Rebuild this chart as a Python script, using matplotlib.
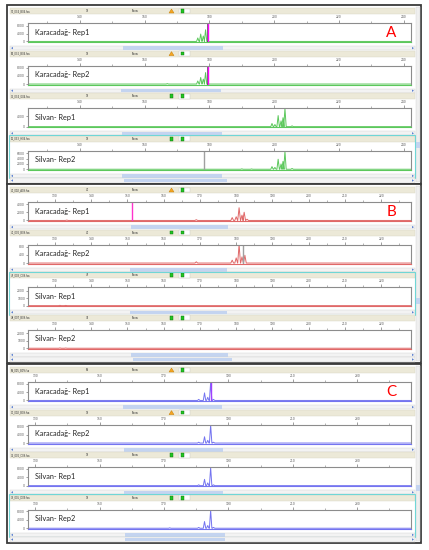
import matplotlib.pyplot as plt
from matplotlib.patches import Rectangle, Polygon

W, H = 429, 550

# size axis labels of the three panels
a_ticks = [140, 160, 180, 200, 220, 240]
b_ticks = [130, 140, 150, 160, 170, 180, 190, 200, 210, 220]
c_ticks = [130, 150, 170, 190, 210, 230]
a_xlim = (124, 242.2)
b_xlim = (122.6, 228.2)
c_xlim = (127.8, 246.7)

names = ['Karacadağ- Rep1', 'Karacadağ- Rep2', 'Silvan- Rep1', 'Silvan- Rep2']

# panel A (green dye)
a_files = ['97_034_B04.fsa', '98_032_B04.fsa', '76_034_G04.fsa', '96_033_H04.fsa']
a_num = ['79', '79', '79', '79']
a_ymax = [9500, 9000, 7000, 7000]
a_yticks = [[0, 4000, 8000], [0, 4000, 8000], [0, 4000], [0, 2000, 4000, 6000]]
a_pos = [[176.4, 177.3, 178.1, 178.8],
         [167.0, 176.4, 177.3, 178.1, 178.8],
         [199.3, 200.2, 201.2, 202.1, 202.7, 203.3, 205.5],
         [199.3, 200.2, 201.2, 202.1, 202.7, 203.3, 205.5, 190.0, 193.0]]
a_hgt = [[1800, 3800, 2800, 6000],
         [200, 1500, 3200, 2400, 5600],
         [1200, 800, 4200, 2200, 3400, 6900, 300],
         [1000, 700, 3800, 2000, 3000, 6800, 300, 150, 120]]
a_marks = [[(179.1, '#333333'), (179.5, '#FF00FF')],
           [(179.1, '#333333'), (179.5, '#FF00FF')],
           [],
           [(178.3, '#A0A0A0')]]
a_warn = [True, True, False, False]

# panel B (red dye)
b_files = ['40_002_A09.fsa', '41_002_B09.fsa', '47_003_C09.fsa', '48_007_B09.fsa']
b_num = ['40', '40', '47', '37']
b_ymax = [4500, 900, 2500, 2500]
b_yticks = [[0, 2000, 4000], [0, 400, 800], [0, 1000, 2000], [0, 1000, 2000]]
b_pos = [[133.3, 169.0, 178.9, 180.0, 180.8, 181.6, 182.2, 183.0],
         [169.0, 178.9, 180.0, 180.8, 181.6, 182.4],
         [131.4, 133.0],
         [131.4, 133.0]]
b_hgt = [[80, 180, 700, 900, 3100, 1300, 2000, 300],
         [60, 140, 250, 900, 300, 380],
         [40, 30],
         [40, 30]]
b_marks = [[(151.4, '#FF33CC')], [(181.9, '#A0A0A0')], [], []]
b_warn = [True, False, False, False]

# panel C (blue dye)
c_files = ['69_005_B09.fsa', '70_002_B09.fsa', '72_002_C09.fsa', '73_005_D09.fsa']
c_num = ['69', '79', '79', '79']
c_ymax = [8800, 8800, 8800, 8800]
c_yticks = [[0, 4000, 8000]] * 4
c_pos = [[180.8, 182.6, 183.6, 184.5, 185.4],
         [180.8, 182.6, 183.6, 184.5, 185.4],
         [180.8, 182.6, 183.6, 184.5, 185.4],
         [171.8, 180.8, 182.6, 183.6, 184.5, 185.4]]
c_hgt = [[500, 3600, 1500, 8600, 500],
         [400, 3000, 1300, 8600, 400],
         [400, 3000, 1300, 8600, 400],
         [200, 400, 3200, 1300, 8600, 400]]
c_marks = [[(184.5, '#A040FF')], [], [], []]
c_warn = [True, True, False, False]

fig = plt.figure(figsize=(W / 100, H / 100), dpi=100)
bg = fig.add_axes([0, 0, 1, 1])
bg.set_xlim(0, W)
bg.set_ylim(H, 0)
bg.axis('off')

PITCH = 42.6
BEIGE = '#ECE9D8'
THUMB = '#C4D4F0'
CYAN = '#70D6D6'


def scrollbar(y, x0, x1):
    bg.add_patch(Rectangle((10, y), 405, 4.2, fc='#F3F3F3', ec='#D0D0D0', lw=0.3))
    bg.add_patch(Rectangle((x0, y + 0.3), x1 - x0, 3.6, fc=THUMB, ec='none'))
    bg.add_patch(Polygon([(11, y + 2.1), (13, y + 0.9), (13, y + 3.3)], fc='#5A7FD0', ec='none'))
    bg.add_patch(Polygon([(414, y + 2.1), (412, y + 0.9), (412, y + 3.3)], fc='#5A7FD0', ec='none'))


def trace(pos, hgt, lo, hi, w):
    pk = sorted(zip(pos, hgt))
    xs, ys = [lo], [0]
    for p, h in pk:
        xs += [p - w, p, p + w]
        ys += [0, h, 0]
    xs.append(hi)
    ys.append(0)
    return xs, ys


def block(top, ticks, xlim, color, files, nums, ymax, yticks, pos, hgt, marks, warn,
          thumbs, selected, letter, vthumb):
    bg.add_patch(Rectangle((7, top), 414, 179, fc='white', ec='#3A3A3A', lw=1.3))
    # right vertical scrollbar
    bg.add_patch(Rectangle((415.5, top + 2), 4.5, 175, fc='#EFEFEF', ec='#D0D0D0', lw=0.3))
    bg.add_patch(Rectangle((415.8, top + vthumb), 3.9, 6, fc=THUMB, ec='none'))
    step = ticks[1] - ticks[0]
    minors = [t + step / 2 for t in [ticks[0] - step] + ticks]
    minors = [m for m in minors if xlim[0] < m < xlim[1]]
    for i in range(4):
        y0 = top + 3 + PITCH * i
        bg.add_patch(Rectangle((10, y0), 405, 6, fc=BEIGE, ec='#D8D5C4', lw=0.3))
        bg.text(11, y0 + 3, files[i], fontsize=1.8, va='center', color='#333333')
        bg.text(86, y0 + 3, nums[i], fontsize=1.8, va='center', color='#333333')
        bg.text(132, y0 + 3, 'Show', fontsize=1.8, va='center', color='#333333')
        bg.add_patch(Rectangle((179, y0 + 0.6), 11, 4.8, fc='white', ec='#C8C8C8', lw=0.3))
        if warn[i]:
            bg.add_patch(Polygon([(169, y0 + 5), (171.5, y0 + 1), (174, y0 + 5)],
                                 fc='#F5A623', ec='#C07800', lw=0.3))
        else:
            bg.add_patch(Rectangle((169.5, y0 + 1.2), 3.6, 3.6, fc='#22C422', ec='#0A700A', lw=0.3))
        bg.add_patch(Rectangle((180.5, y0 + 1.2), 3.6, 3.6, fc='#22C422', ec='#0A700A', lw=0.3))
        scrollbar(y0 + 38, thumbs[i][0], thumbs[i][1])
        if i == selected:
            bg.add_patch(Rectangle((9.3, y0 - 0.5), 406, 43, fc='none', ec=CYAN, lw=0.8))

        box_top = y0 + 15
        ax = fig.add_axes([28 / W, 1 - (box_top + 19) / H, 383 / W, 19 / H])
        ax.set_facecolor('white')
        xs, ys = trace(pos[i], hgt[i], xlim[0], xlim[1], 0.38)
        ax.plot(xs, ys, color=color, lw=0.7)
        for k, (mp, mc) in enumerate(marks[i]):
            ax.axvline(mp, color=mc, lw=0.5 if mc == '#333333' else 1.0)
        ax.xaxis.set_ticks_position('top')
        ax.set_xticks(ticks)
        ax.set_xticks(minors, minor=True)
        ax.set_xticklabels([str(t) for t in ticks])
        ax.set_yticks(yticks[i])
        ax.set_yticklabels([str(t) for t in yticks[i]])
        ax.set_xlim(*xlim)
        ax.set_ylim(-0.03 * ymax[i], ymax[i])
        ax.tick_params(axis='x', which='major', length=2, width=0.4, labelsize=2.2,
                       pad=0.8, colors='#555555')
        ax.tick_params(axis='x', which='minor', length=1.2, width=0.4, colors='#777777')
        ax.tick_params(axis='y', length=1.5, width=0.4, labelsize=2.2, pad=0.6,
                       colors='#555555')
        for s in ax.spines.values():
            s.set_color('#8C8C8C')
            s.set_linewidth(0.8)
        ax.spines['bottom'].set_color(color)
        ax.text(0.018, 0.52, names[i], transform=ax.transAxes, fontsize=5.2,
                family=['Lato', 'DejaVu Sans'], va='center', ha='left', color='#222222')
    scrollbar(top + 3 + PITCH * 4, thumbs[4][0], thumbs[4][1])
    fig.text(391 / W, 1 - (top + 28) / H, letter, color='#FF0000', fontsize=11,
             family=['Lato', 'DejaVu Sans'], ha='center', va='center')


block(5, a_ticks, a_xlim, '#5CC85C', a_files, a_num, a_ymax, a_yticks, a_pos, a_hgt,
      a_marks, a_warn, [(123, 223), (121, 221), (122, 222), (122, 222), (124, 227)], 3, 'A', 137)
block(184, b_ticks, b_xlim, '#E06868', b_files, b_num, b_ymax, b_yticks, b_pos, b_hgt,
      b_marks, b_warn, [(131, 228), (130, 227), (130, 227), (131, 228), (133, 232)], 2, 'B', 114)
block(364, c_ticks, c_xlim, '#7474F0', c_files, c_num, c_ymax, c_yticks, c_pos, c_hgt,
      c_marks, c_warn, [(123, 222), (124, 223), (124, 223), (125, 225), (125, 225)], 3, 'C', 121)

fig.savefig('out.png', dpi=100)
